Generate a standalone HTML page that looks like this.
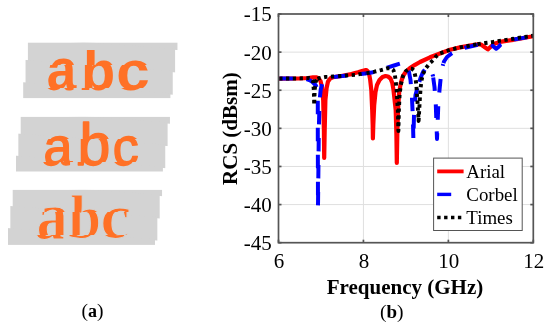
<!DOCTYPE html>
<html><head><meta charset="utf-8"><title>RCS figure</title>
<style>
html,body{margin:0;padding:0;background:#fff;}
body{width:550px;height:328px;overflow:hidden;position:relative;}
svg{display:block;}
text{font-kerning:normal;}
</style></head><body>
<svg width="550" height="328" viewBox="0 0 550 328"><defs><clipPath id="b1_0"><polygon points="0.00,12.70 200.00,12.70 200.00,51.83 0.00,36.83"/></clipPath><clipPath id="b1_1"><polygon points="0.00,35.63 200.00,50.63 200.00,74.23 0.00,59.23"/></clipPath><clipPath id="b1_2"><polygon points="0.00,58.03 200.00,73.03 200.00,96.63 0.00,81.63"/></clipPath><clipPath id="b1_3"><polygon points="0.00,80.43 200.00,95.43 200.00,128.10 0.00,128.10"/></clipPath><filter id="st1" filterUnits="userSpaceOnUse" primitiveUnits="userSpaceOnUse" x="0" y="37.7" width="200" height="65.4" color-interpolation-filters="sRGB"><feOffset in="SourceGraphic" dx="0" dy="0" x="0" y="37.7" width="200" height="27.3" result="o0"/><feOffset in="SourceGraphic" dx="-2.35" dy="0" x="0" y="65" width="200" height="23" result="o1"/><feOffset in="SourceGraphic" dx="-4.70" dy="0" x="0" y="88" width="200" height="15.1" result="o2"/><feMerge><feMergeNode in="o0"/><feMergeNode in="o1"/><feMergeNode in="o2"/></feMerge></filter><clipPath id="b2_0"><polygon points="0.00,86.90 200.00,86.90 200.00,126.02 0.00,111.02"/></clipPath><clipPath id="b2_1"><polygon points="0.00,109.82 200.00,124.82 200.00,148.42 0.00,133.42"/></clipPath><clipPath id="b2_2"><polygon points="0.00,132.22 200.00,147.22 200.00,170.82 0.00,155.82"/></clipPath><clipPath id="b2_3"><polygon points="0.00,154.62 200.00,169.62 200.00,201.50 0.00,201.50"/></clipPath><filter id="st2" filterUnits="userSpaceOnUse" primitiveUnits="userSpaceOnUse" x="0" y="111.9" width="200" height="64.6" color-interpolation-filters="sRGB"><feOffset in="SourceGraphic" dx="0" dy="0" x="0" y="111.9" width="200" height="27.1" result="o0"/><feOffset in="SourceGraphic" dx="-2.35" dy="0" x="0" y="139" width="200" height="23" result="o1"/><feOffset in="SourceGraphic" dx="-4.70" dy="0" x="0" y="162" width="200" height="14.5" result="o2"/><feMerge><feMergeNode in="o0"/><feMergeNode in="o1"/><feMergeNode in="o2"/></feMerge></filter><clipPath id="b3_0"><polygon points="0.00,159.90 200.00,159.90 200.00,199.02 0.00,184.02"/></clipPath><clipPath id="b3_1"><polygon points="0.00,182.82 200.00,197.82 200.00,221.42 0.00,206.42"/></clipPath><clipPath id="b3_2"><polygon points="0.00,205.22 200.00,220.22 200.00,243.82 0.00,228.82"/></clipPath><clipPath id="b3_3"><polygon points="0.00,227.62 200.00,242.62 200.00,274.90 0.00,274.90"/></clipPath><filter id="st3" filterUnits="userSpaceOnUse" primitiveUnits="userSpaceOnUse" x="0" y="184.9" width="200" height="65.0" color-interpolation-filters="sRGB"><feOffset in="SourceGraphic" dx="0" dy="0" x="0" y="184.9" width="200" height="27.1" result="o0"/><feOffset in="SourceGraphic" dx="-2.35" dy="0" x="0" y="212" width="200" height="23" result="o1"/><feOffset in="SourceGraphic" dx="-4.70" dy="0" x="0" y="235" width="200" height="14.9" result="o2"/><feMerge><feMergeNode in="o0"/><feMergeNode in="o1"/><feMergeNode in="o2"/></feMerge></filter></defs><g clip-path="url(#b1_0)"><g transform="translate(2.35 0)"><rect x="27.90" y="42.70" width="147.20" height="55.40" fill="#d3d3d3"/></g></g><g clip-path="url(#b1_1)"><g transform="translate(-0.00 0)"><rect x="27.90" y="42.70" width="147.20" height="55.40" fill="#d3d3d3"/></g></g><g clip-path="url(#b1_2)"><g transform="translate(-2.35 0)"><rect x="27.90" y="42.70" width="147.20" height="55.40" fill="#d3d3d3"/></g></g><g clip-path="url(#b1_3)"><g transform="translate(-4.70 0)"><rect x="27.90" y="42.70" width="147.20" height="55.40" fill="#d3d3d3"/></g></g><g filter="url(#st1)"><text font-family="'Liberation Sans', Arial, sans-serif" font-weight="bold" fill="#ff7126"><tspan x="48.78" y="90.46" font-size="58.45" textLength="29.50" lengthAdjust="spacingAndGlyphs">a</tspan><tspan x="83.02" y="90.46" font-size="56.42" textLength="34.20" lengthAdjust="spacingAndGlyphs">b</tspan><tspan x="118.23" y="90.32" font-size="56.03" textLength="33.45" lengthAdjust="spacingAndGlyphs">c</tspan></text></g><g clip-path="url(#b2_0)"><g transform="translate(2.35 0)"><rect x="20.70" y="116.90" width="146.90" height="54.60" fill="#d3d3d3"/></g></g><g clip-path="url(#b2_1)"><g transform="translate(-0.00 0)"><rect x="20.70" y="116.90" width="146.90" height="54.60" fill="#d3d3d3"/></g></g><g clip-path="url(#b2_2)"><g transform="translate(-2.35 0)"><rect x="20.70" y="116.90" width="146.90" height="54.60" fill="#d3d3d3"/></g></g><g clip-path="url(#b2_3)"><g transform="translate(-4.70 0)"><rect x="20.70" y="116.90" width="146.90" height="54.60" fill="#d3d3d3"/></g></g><g filter="url(#st2)"><text font-family="'Liberation Sans', Arial, sans-serif" font-weight="normal" fill="#ff7126" stroke="#ff7126" stroke-width="1.40" stroke-linejoin="round"><tspan x="45.47" y="165.32" font-size="54.38" textLength="28.91" lengthAdjust="spacingAndGlyphs">a</tspan><tspan x="79.39" y="165.32" font-size="59.69" textLength="32.84" lengthAdjust="spacingAndGlyphs">b</tspan><tspan x="114.80" y="165.32" font-size="54.40" textLength="26.01" lengthAdjust="spacingAndGlyphs">c</tspan></text></g><g clip-path="url(#b3_0)"><g transform="translate(2.35 0)"><rect x="12.70" y="189.90" width="147.00" height="55.00" fill="#d3d3d3"/></g></g><g clip-path="url(#b3_1)"><g transform="translate(-0.00 0)"><rect x="12.70" y="189.90" width="147.00" height="55.00" fill="#d3d3d3"/></g></g><g clip-path="url(#b3_2)"><g transform="translate(-2.35 0)"><rect x="12.70" y="189.90" width="147.00" height="55.00" fill="#d3d3d3"/></g></g><g clip-path="url(#b3_3)"><g transform="translate(-4.70 0)"><rect x="12.70" y="189.90" width="147.00" height="55.00" fill="#d3d3d3"/></g></g><g filter="url(#st3)"><text font-family="'Liberation Serif', 'Times New Roman', serif" font-weight="bold" fill="#ff7126" stroke="#d3d3d3" stroke-width="1.10"><tspan x="38.45" y="238.74" font-size="66.67" textLength="31.32" lengthAdjust="spacingAndGlyphs">a</tspan><tspan x="70.59" y="237.70" font-size="60.39" textLength="32.64" lengthAdjust="spacingAndGlyphs">b</tspan><tspan x="102.47" y="237.70" font-size="64.30" textLength="28.86" lengthAdjust="spacingAndGlyphs">c</tspan></text></g><line x1="363.43" y1="14.00" x2="363.43" y2="242.70" stroke="#dfdfdf" stroke-width="1"/><line x1="448.37" y1="14.00" x2="448.37" y2="242.70" stroke="#dfdfdf" stroke-width="1"/><line x1="278.50" y1="52.12" x2="533.30" y2="52.12" stroke="#dfdfdf" stroke-width="1"/><line x1="278.50" y1="90.23" x2="533.30" y2="90.23" stroke="#dfdfdf" stroke-width="1"/><line x1="278.50" y1="128.35" x2="533.30" y2="128.35" stroke="#dfdfdf" stroke-width="1"/><line x1="278.50" y1="166.47" x2="533.30" y2="166.47" stroke="#dfdfdf" stroke-width="1"/><line x1="278.50" y1="204.58" x2="533.30" y2="204.58" stroke="#dfdfdf" stroke-width="1"/><svg x="278.50" y="14.00" width="254.80" height="228.70" viewBox="278.50 14.00 254.80 228.70" overflow="hidden"><polyline points="278.5,78.6 300.0,78.4 308.0,78.0 313.0,77.4 316.0,77.3 318.5,78.3 320.5,81.0 322.0,87.0 323.2,100.0 323.9,130.0 324.2,158.0 324.7,130.0 325.4,100.0 326.6,88.0 328.0,81.5 330.5,78.2 333.0,77.3 336.0,76.8 340.0,76.2 345.0,75.3 350.0,74.4 354.0,73.2 358.0,72.2 362.0,71.0 365.0,70.2 366.5,70.2 368.0,71.5 369.3,75.0 370.2,80.0 371.3,90.0 372.2,110.0 372.7,125.0 372.9,138.5 373.3,125.0 374.2,105.0 375.5,92.0 377.0,85.0 379.5,80.0 382.5,77.0 385.5,76.0 388.0,76.5 390.5,78.5 392.3,83.0 393.5,90.0 395.7,110.0 396.4,135.0 396.8,163.0 397.3,135.0 398.0,110.0 399.2,92.0 400.8,83.0 403.0,76.0 406.0,71.5 410.0,68.0 415.0,64.8 420.0,62.0 430.0,57.3 436.0,55.0 440.0,53.4 450.0,49.8 460.0,47.4 470.0,45.6 478.0,44.2 481.0,44.6 484.5,47.0 487.8,49.4 491.0,46.5 495.0,43.4 500.0,41.9 506.3,40.9 513.4,39.8 520.0,38.6 527.4,37.3 533.3,36.2" fill="none" stroke="#ff0000" stroke-width="4.2" stroke-linejoin="round"/><polyline points="278.5,78.6 300.0,78.6 306.0,79.0 310.0,80.3 313.0,82.5 315.5,85.0 317.0,88.0 317.8,100.0 317.8,130.0 317.9,170.0 318.0,207.0 318.4,170.0 318.8,130.0 319.6,100.0 320.8,89.0 322.5,83.0 325.0,79.5 330.0,77.5 340.0,76.3 350.0,75.2 360.0,74.2 365.0,73.6 373.0,72.2 380.0,70.2 388.0,67.3 394.0,65.5 400.0,63.6 404.0,64.5 407.0,67.5 409.0,72.0 410.5,80.0 411.8,95.0 412.8,115.0 413.4,140.0 414.0,115.0 415.5,95.0 418.0,86.0 420.5,78.0 423.0,72.0 426.0,68.0 429.0,67.0 431.0,70.0 433.0,76.0 434.5,87.0 435.8,105.0 437.0,139.0 438.3,105.0 439.5,90.0 440.5,80.0 442.0,68.0 444.0,61.5 447.0,57.0 452.0,53.2 458.0,50.2 465.0,47.8 478.0,44.8 488.0,43.6 491.4,44.6 494.0,47.0 496.3,48.8 498.5,47.0 500.6,44.6 505.0,42.2 515.0,39.3 525.0,37.6 533.3,36.2" fill="none" stroke="#0000ff" stroke-width="4.00" stroke-dasharray="0.00 1.00 13.50 13.50 13.50 13.50 13.50 13.50 13.50 13.50 13.50 13.50 13.50 13.50 13.50 13.50 13.50 13.50 13.50 13.50 13.50 13.50 13.50 13.50 0.39 1.00 13.50 13.50 13.50 13.50 13.50 12.19 13.50 13.50 13.50 13.50 13.50 13.50 13.50 13.50 13.50 6.72 13.50 13.50 2.10 1.00 13.50 13.50 13.50 13.50 13.50 13.50 13.50 13.75 13.50 13.50 1.75 1.00 13.50 13.50 13.50 13.64 13.50 13.50 13.50 13.50 13.50 1776.33" stroke-linejoin="round"/><polyline points="278.5,78.6 300.0,78.4 309.0,78.0 311.5,78.6 313.0,81.0 313.8,90.0 314.2,105.0 314.7,90.0 315.6,82.0 317.0,79.0 319.2,78.2 326.0,76.9 333.0,76.5 340.0,76.0 347.0,75.4 355.0,74.9 361.0,73.9 367.5,73.0 374.5,71.7 381.0,70.1 387.8,68.2 391.0,68.2 393.3,70.0 394.7,74.0 395.6,80.0 396.6,90.0 397.8,110.0 398.4,131.0 398.9,110.0 399.6,95.0 400.8,85.0 403.0,76.0 406.0,71.0 409.5,68.6 412.0,68.8 414.0,70.5 415.3,76.0 416.3,85.0 417.4,100.0 418.6,121.0 419.8,100.0 420.6,88.0 421.6,80.0 423.0,74.0 426.0,68.0 430.0,63.0 434.0,59.5 436.0,56.5 440.0,53.4 450.0,49.8 460.0,47.4 470.0,45.6 479.2,43.9 485.3,43.0 492.4,42.1 499.3,40.9 506.3,39.9 513.4,38.8 520.0,37.6 527.4,36.6 533.3,35.7" fill="none" stroke="#000000" stroke-width="3.90" stroke-dasharray="0.00 0.70 3.30 3.50 3.30 3.50 3.30 3.50 3.30 3.50 3.30 3.50 3.30 3.50 3.30 3.50 3.30 3.50 3.30 3.50 3.30 3.50 3.30 3.50 3.30 3.50 3.30 1.25 3.30 3.50 3.30 3.50 3.30 3.96 3.30 3.50 3.30 3.50 3.30 3.50 3.30 3.50 0.28 1.00 3.30 3.50 3.30 3.50 3.30 3.42 3.30 3.50 3.30 3.50 3.30 3.50 3.30 3.50 3.30 3.50 3.30 3.50 3.30 3.50 3.30 3.50 3.30 3.50 3.30 3.50 3.30 3.50 3.30 3.50 3.30 3.50 3.30 3.50 3.30 3.50 3.30 3.50 3.30 3.50 3.30 3.50 3.30 3.50 3.30 3.50 3.30 3.50 3.30 3.50 3.30 3.50 3.30 3.50 3.30 3.50 3.30 3.50 3.30 3.50 3.30 3.50 3.30 3.50 3.30 3.50 3.30 3.50 3.30 3.50 3.30 3.50 3.30 3.50 3.30 3.50 3.30 3.50 3.30 3.50 3.30 3.50 3.30 3.50 3.30 3.50 3.30 3.50 3.30 3.50 3.30 3.50 3.30 3.50 3.30 1.11 3.30 3.50 3.30 3.50 3.30 3.50 3.30 3.50 3.30 3.50 3.30 3.50 3.30 3.50 3.30 3.50 3.30 3.50 3.30 1516.57" stroke-linejoin="round"/></svg><rect x="278.50" y="14.00" width="254.80" height="228.70" fill="none" stroke="#555555" stroke-width="1.7"/><line x1="278.50" y1="242.70" x2="278.50" y2="239.70" stroke="#555555" stroke-width="1.7"/><line x1="278.50" y1="14.00" x2="278.50" y2="17.00" stroke="#555555" stroke-width="1.7"/><line x1="363.43" y1="242.70" x2="363.43" y2="239.70" stroke="#555555" stroke-width="1.7"/><line x1="363.43" y1="14.00" x2="363.43" y2="17.00" stroke="#555555" stroke-width="1.7"/><line x1="448.37" y1="242.70" x2="448.37" y2="239.70" stroke="#555555" stroke-width="1.7"/><line x1="448.37" y1="14.00" x2="448.37" y2="17.00" stroke="#555555" stroke-width="1.7"/><line x1="533.30" y1="242.70" x2="533.30" y2="239.70" stroke="#555555" stroke-width="1.7"/><line x1="533.30" y1="14.00" x2="533.30" y2="17.00" stroke="#555555" stroke-width="1.7"/><line x1="278.50" y1="14.00" x2="281.50" y2="14.00" stroke="#555555" stroke-width="1.7"/><line x1="533.30" y1="14.00" x2="530.30" y2="14.00" stroke="#555555" stroke-width="1.7"/><line x1="278.50" y1="52.12" x2="281.50" y2="52.12" stroke="#555555" stroke-width="1.7"/><line x1="533.30" y1="52.12" x2="530.30" y2="52.12" stroke="#555555" stroke-width="1.7"/><line x1="278.50" y1="90.23" x2="281.50" y2="90.23" stroke="#555555" stroke-width="1.7"/><line x1="533.30" y1="90.23" x2="530.30" y2="90.23" stroke="#555555" stroke-width="1.7"/><line x1="278.50" y1="128.35" x2="281.50" y2="128.35" stroke="#555555" stroke-width="1.7"/><line x1="533.30" y1="128.35" x2="530.30" y2="128.35" stroke="#555555" stroke-width="1.7"/><line x1="278.50" y1="166.47" x2="281.50" y2="166.47" stroke="#555555" stroke-width="1.7"/><line x1="533.30" y1="166.47" x2="530.30" y2="166.47" stroke="#555555" stroke-width="1.7"/><line x1="278.50" y1="204.58" x2="281.50" y2="204.58" stroke="#555555" stroke-width="1.7"/><line x1="533.30" y1="204.58" x2="530.30" y2="204.58" stroke="#555555" stroke-width="1.7"/><line x1="278.50" y1="242.70" x2="281.50" y2="242.70" stroke="#555555" stroke-width="1.7"/><line x1="533.30" y1="242.70" x2="530.30" y2="242.70" stroke="#555555" stroke-width="1.7"/><text x="271.8" y="21.40" text-anchor="end" font-size="21" font-family="'Liberation Serif', 'Times New Roman', serif" fill="#000">-15</text><text x="271.8" y="59.52" text-anchor="end" font-size="21" font-family="'Liberation Serif', 'Times New Roman', serif" fill="#000">-20</text><text x="271.8" y="97.63" text-anchor="end" font-size="21" font-family="'Liberation Serif', 'Times New Roman', serif" fill="#000">-25</text><text x="271.8" y="135.75" text-anchor="end" font-size="21" font-family="'Liberation Serif', 'Times New Roman', serif" fill="#000">-30</text><text x="271.8" y="173.87" text-anchor="end" font-size="21" font-family="'Liberation Serif', 'Times New Roman', serif" fill="#000">-35</text><text x="271.8" y="211.98" text-anchor="end" font-size="21" font-family="'Liberation Serif', 'Times New Roman', serif" fill="#000">-40</text><text x="271.8" y="250.10" text-anchor="end" font-size="21" font-family="'Liberation Serif', 'Times New Roman', serif" fill="#000">-45</text><text x="279.00" y="267.9" text-anchor="middle" font-size="21" font-family="'Liberation Serif', 'Times New Roman', serif" fill="#000">6</text><text x="363.93" y="267.9" text-anchor="middle" font-size="21" font-family="'Liberation Serif', 'Times New Roman', serif" fill="#000">8</text><text x="448.87" y="267.9" text-anchor="middle" font-size="21" font-family="'Liberation Serif', 'Times New Roman', serif" fill="#000">10</text><text x="533.80" y="267.9" text-anchor="middle" font-size="21" font-family="'Liberation Serif', 'Times New Roman', serif" fill="#000">12</text><text x="405" y="294.1" text-anchor="middle" font-size="21" font-weight="bold" font-family="'Liberation Serif', 'Times New Roman', serif" fill="#000">Frequency (GHz)</text><text transform="translate(236.7 128.6) rotate(-90)" x="0" y="0" text-anchor="middle" font-size="21" font-weight="bold" font-family="'Liberation Serif', 'Times New Roman', serif" fill="#000">RCS (dBsm)</text><rect x="433.6" y="158.1" width="88.6" height="72.4" fill="#fff" stroke="#555555" stroke-width="1"/><line x1="437.2" y1="171.4" x2="463.6" y2="171.4" stroke="#ff0000" stroke-width="3.8"/><line x1="437.2" y1="194.4" x2="463.6" y2="194.4" stroke="#0000ff" stroke-width="3.4" stroke-dasharray="14 30"/><line x1="437.2" y1="217.5" x2="463.6" y2="217.5" stroke="#000" stroke-width="3.4" stroke-dasharray="3.4 3.5"/><text x="466.3" y="177.7" font-size="18.9" font-family="'Liberation Serif', 'Times New Roman', serif" fill="#000">Arial</text><text x="466.3" y="200.9" font-size="18.9" font-family="'Liberation Serif', 'Times New Roman', serif" fill="#000">Corbel</text><text x="466.3" y="223.6" font-size="18.9" font-family="'Liberation Serif', 'Times New Roman', serif" fill="#000">Times</text><text x="92.6" y="317.0" text-anchor="middle" font-size="19.5" font-family="'Liberation Serif', 'Times New Roman', serif" fill="#000">(<tspan font-weight="bold" font-size="18">a</tspan>)</text><text x="391.8" y="317.6" text-anchor="middle" font-size="19.5" font-family="'Liberation Serif', 'Times New Roman', serif" fill="#000">(<tspan font-weight="bold" font-size="19">b</tspan>)</text></svg>
</body></html>
